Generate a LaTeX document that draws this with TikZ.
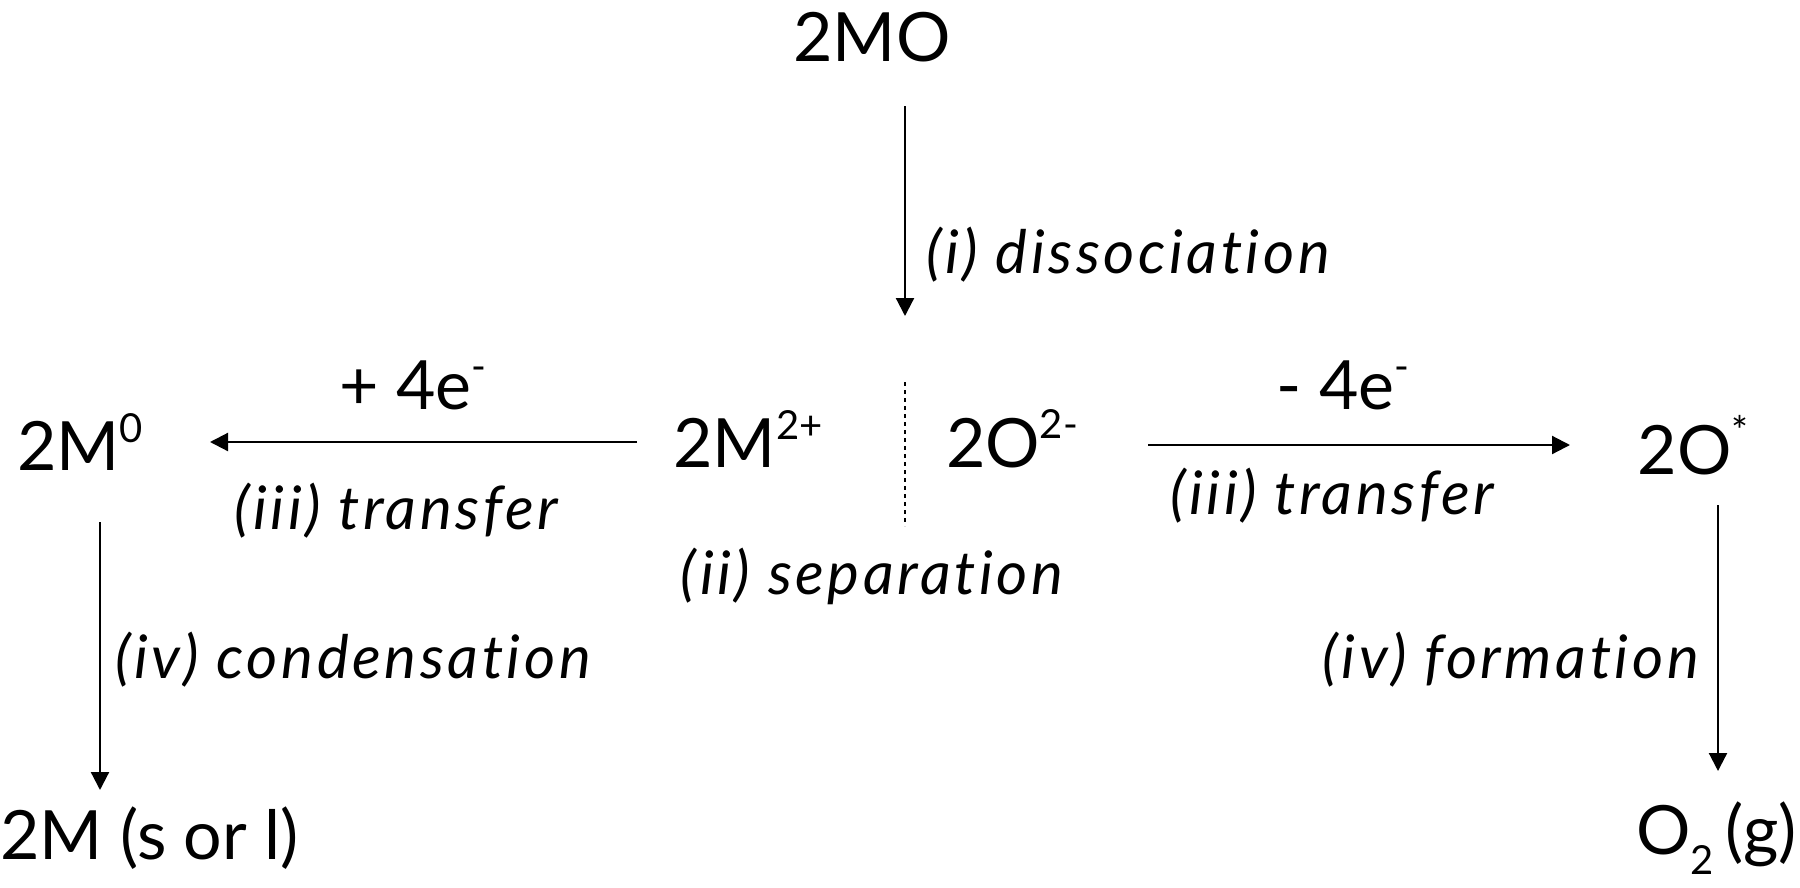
\documentclass[tikz,border=0pt]{standalone}
\usepackage{fontspec}
\setmainfont{Lato}[Ligatures=NoCommon]
\usetikzlibrary{arrows.meta}
\newcommand{\sps}[1]{\raisebox{0.42em}{\fontsize{40}{44}\selectfont #1}}
\newcommand{\sbs}[1]{\raisebox{-0.3em}{\fontsize{40}{44}\selectfont #1}}
\begin{document}
\begin{tikzpicture}[x=1pt,y=-1pt,
  chem/.style={font=\fontsize{68}{76}\selectfont, inner sep=0},
  lab/.style={font=\fontsize{60}{66}\selectfont\itshape\addfontfeatures{LetterSpace=6}, inner sep=0},
  arr/.style={line width=2.2pt,-{Triangle[length=18pt,width=18pt]}}]
\useasboundingbox (0,0) rectangle (1800,887);
\node[chem] (mo) at (872,37) {2MO};
\coordinate (mob) at (905,106);
\coordinate (mot) at (905,316);
\draw[arr] (mob) -- node[lab,anchor=west,xshift=20pt,yshift=-44pt]{(i) dissociation} (mot);
\node[chem] (m2) at (748,439) {2M\sps{2+}};
\node[chem] (o2m) at (1012,439) {2O\sps{2-}};
\coordinate (dt) at (905,382); \coordinate (db) at (905,526);
\draw[dashed,dash pattern=on 4pt off 4pt,line width=1.6pt] (dt) -- (db);
\node[lab] (sep) at (872,576) {(ii) separation};
\node[chem] (m0) at (80,442) {2M\sps{0}};
\coordinate (la) at (637,442); \coordinate (lb) at (210,442);
\draw[arr] (la) -- (lb);
\node[chem] (p4) at (413,385) {+ 4e\sps{-}};
\node[lab] (t1) at (396,511) {(iii) transfer};
\node[chem] (ostar) at (1693,445) {2O\sps{*}};
\coordinate (ra) at (1148,445); \coordinate (rb) at (1570,445);
\draw[arr] (ra) -- (rb);
\node[chem] (m4) at (1343,385) {- 4e\sps{-}};
\node[lab] (t2) at (1332,496) {(iii) transfer};
\coordinate (a1) at (100,522); \coordinate (a2) at (100,790);
\draw[arr] (a1) -- (a2);
\node[lab,anchor=west] (cond) at (115,660) {(iv) condensation};
\node[chem,anchor=west] (ms) at (0,838) {2M (s or l)};
\coordinate (b1) at (1718,505); \coordinate (b2) at (1718,771);
\draw[arr] (b1) -- (b2);
\node[lab,anchor=east] (form) at (1699,660) {(iv) formation};
\node[chem,anchor=east] (og) at (1797,838) {O\sbs{2}\,(g)};
\end{tikzpicture}
\end{document}
